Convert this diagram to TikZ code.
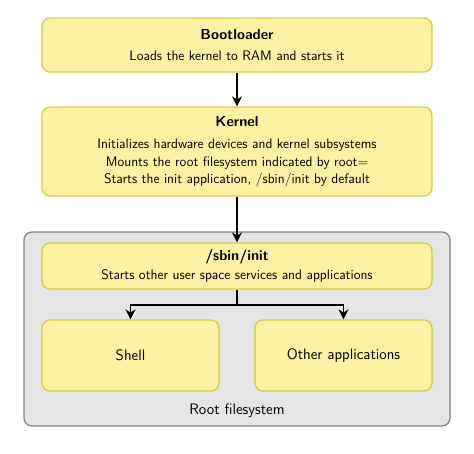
\documentclass[tikz,border=0pt]{standalone}
\usepackage{fontspec}
\usetikzlibrary{arrows.meta,calc}
\definecolor{boxfill}{HTML}{FBF1A3}
\definecolor{boxline}{HTML}{D6CA4E}
\definecolor{rootfill}{HTML}{E5E5E5}
\definecolor{rootline}{HTML}{858585}
\newcommand{\ttl}[1]{{\fontsize{14.5}{17}\selectfont\bfseries #1}}
\tikzset{
  stagebox/.style={draw=boxline, fill=boxfill, line width=1.3pt, rounded corners=8pt,
    align=center, inner sep=0pt, font=\sffamily\fontsize{13.8}{17.5}\selectfont},
  appbox/.style={stagebox, minimum width=177pt, minimum height=71pt, font=\sffamily\fontsize{15.2}{17}\selectfont},
  flowarrow/.style={line width=1.8pt, -{Stealth[length=10pt,width=10pt]}},
  flowline/.style={line width=1.8pt}
}
\begin{document}
\begin{tikzpicture}[x=1pt,y=-1pt]
\useasboundingbox (0,0) rectangle (474,453);
\node[draw=rootline, fill=rootfill, line width=1.3pt, rounded corners=8pt, minimum width=426pt, minimum height=194pt, inner sep=0pt] (root) at (237,329) {};
\node[stagebox, minimum width=390pt, minimum height=54pt] (boot) at (237,45)
  {\ttl{Bootloader}\\[4pt]Loads the kernel to RAM and starts it};
\node[stagebox, minimum width=390pt, minimum height=89pt] (kernel) at (237,151.5)
  {\ttl{Kernel}\\[5pt]Initializes hardware devices and kernel subsystems\\Mounts the root filesystem indicated by root=\\Starts the init application, /sbin/init by default};
\node[stagebox, minimum width=390pt, minimum height=46pt] (init) at (237,266)
  {\ttl{/sbin/init}\\[2pt]Starts other user space services and applications};
\node[appbox] (shell) at (130.5,355.5) {Shell};
\node[appbox] (other) at (343.5,355.5) {Other applications};
\node[font=\sffamily\fontsize{15.2}{17}\selectfont, inner sep=0pt] (rootlabel) at (237,411) {Root filesystem};
\draw[flowarrow] (boot.south) -- (kernel.north);
\draw[flowarrow] (kernel.south) -- (init.north);
\coordinate (split) at ($(init.south)+(0,15)$);
\draw[flowline] (init.south) -- (split);
\draw[flowarrow] (split) -| (shell.north);
\draw[flowarrow] (split) -| (other.north);
\end{tikzpicture}
\end{document}
